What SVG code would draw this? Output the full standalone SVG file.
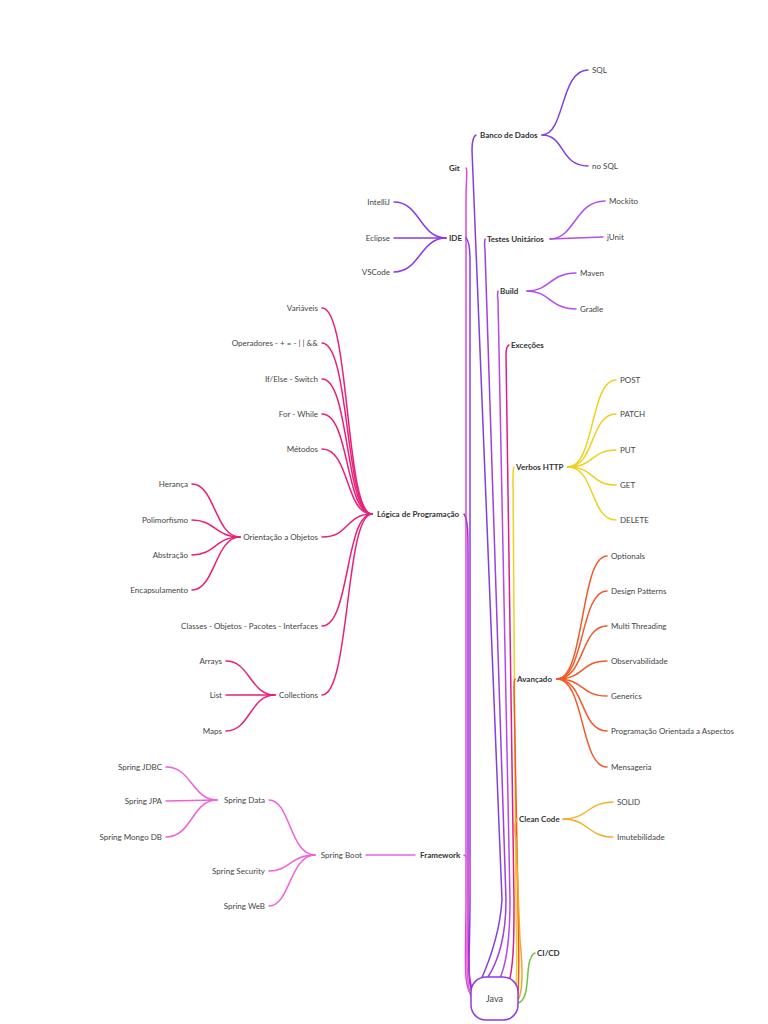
<svg xmlns="http://www.w3.org/2000/svg" width="768" height="1024" viewBox="0 0 768 1024">
<style>
text{font-family:Lato,"Liberation Sans",sans-serif;font-size:8px;fill:#444}
.b{font-weight:bold;fill:#333}
.e{text-anchor:end}
path{fill:none;stroke-width:1.5;stroke-linecap:round}
</style>
<rect width="768" height="1024" fill="#fff"/>
<g id="connectors">
<path d="M474 998 C462 990 466 960 466 900 L466 200 C466 175 468 170 466 168" stroke="#e048d8"/>
<path d="M474 995 C466 985 470 960 470 900 L470 260 C470 245 468 240 466 238" stroke="#8a3be8"/>
<path d="M474 992 C468 985 468 960 468 900 L468 560 C468 530 468 520 464 514" stroke="#b030d0"/>
<path d="M474 1000 C466 995 466 960 468 900 L470 870 C470 860 468 857 464 855" stroke="#e858d0"/>
<path d="M480 982 C490 960 500 930 502 900 L472 150 C472 140 474 136 476 135" stroke="#8040e0"/>
<path d="M486 980 C500 960 506 930 506 900 L485 250 C484 243 485 240 485 239" stroke="#9e40e0"/>
<path d="M500 978 C508 960 510 930 510 900 L498 300 C497 294 498 292 498 291" stroke="#b848e8"/>
<path d="M510 978 C514 960 514 930 514 900 L506 355 C506 348 507 346 509 345" stroke="#d82090"/>
<path d="M516 990 C518 960 516 930 516 900 L513 480 C513 470 513 468 514 467" stroke="#f0d020"/>
<path d="M518 995 C520 960 518 930 518 900 L514 690 C514 682 514 680 515 679" stroke="#f05a28"/>
<path d="M518 1000 C524 990 522 960 520 940 L516 840 C514 825 515 822 517 819" stroke="#f5a623"/>
<path d="M518 1003 C530 1000 526 970 530 960 C532 955 534 953 535 953" stroke="#6cc644"/>
<path d="M446 238 C420 238 420 202 394 202" stroke="#8a3be8"/>
<path d="M446 238 L394 238" stroke="#8a3be8"/>
<path d="M446 238 C420 238 420 272 394 272" stroke="#8a3be8"/>
<g stroke="#e8207a">
<path d="M372 514 C345 514 350 308 322 308"/>
<path d="M372 514 C345 514 350 343 322 343"/>
<path d="M372 514 C345 514 350 379 322 379"/>
<path d="M372 514 C345 514 350 414 322 414"/>
<path d="M372 514 C345 514 350 449 322 449"/>
<path d="M372 514 C345 514 350 537 322 537"/>
<path d="M372 514 C345 514 350 626 322 626"/>
<path d="M372 514 C345 514 350 695 322 695"/>
<path d="M240 537 C215 537 215 484 192 484"/>
<path d="M240 537 C215 537 215 520 192 520"/>
<path d="M240 537 C215 537 215 555 192 555"/>
<path d="M240 537 C215 537 215 590 192 590"/>
<path d="M275 695 C250 695 250 661 226 661"/>
<path d="M275 695 L226 695"/>
<path d="M275 695 C250 695 250 731 226 731"/>
</g>
<g stroke="#f060d8">
<path d="M415 855 L366 855"/>
<path d="M315 855 C290 855 290 800 269 800"/>
<path d="M315 855 C290 855 290 871 269 871"/>
<path d="M315 855 C290 855 290 906 269 906"/>
<path d="M217 800 C192 800 192 767 166 767"/>
<path d="M217 800 L166 801"/>
<path d="M217 800 C192 800 192 837 166 837"/>
</g>
<g stroke="#8040e0">
<path d="M542 135 C565 135 560 70 588 70"/>
<path d="M542 135 C565 135 560 166 588 166"/>
</g>
<g stroke="#b050e8">
<path d="M550 239 C575 239 575 201 605 201"/>
<path d="M550 239 L603 237"/>
<path d="M527 291 C550 291 550 273 576 273"/>
<path d="M527 291 C550 291 550 309 576 309"/>
</g>
<g stroke="#f0d020">
<path d="M568 467 C595 467 590 380 616 380"/>
<path d="M568 467 C595 467 590 414 616 414"/>
<path d="M568 467 C595 467 590 450 616 450"/>
<path d="M568 467 C595 467 590 485 616 485"/>
<path d="M568 467 C595 467 590 520 616 520"/>
</g>
<g stroke="#f05a28">
<path d="M557 679 C585 679 580 556 607 556"/>
<path d="M557 679 C585 679 580 591 607 591"/>
<path d="M557 679 C585 679 580 626 607 626"/>
<path d="M557 679 C585 679 580 661 607 661"/>
<path d="M557 679 C585 679 580 696 607 696"/>
<path d="M557 679 C585 679 580 731 607 731"/>
<path d="M557 679 C585 679 580 767 607 767"/>
</g>
<g stroke="#f5b030">
<path d="M563 819 C588 819 588 802 613 802"/>
<path d="M563 819 C588 819 588 837 613 837"/>
</g>
</g>
<g id="java"><rect x="471" y="977" width="47" height="43" rx="15" fill="#fff" stroke="#8a3be8" stroke-width="1.5"/><text x="494.5" y="1002" text-anchor="middle" style="font-size:9px">Java</text></g>
<g id="left">
<text class="b" x="449" y="171">Git</text>
<text class="b" x="449" y="241">IDE</text>
<text class="e" x="390" y="205">IntelliJ</text>
<text class="e" x="390" y="241">Eclipse</text>
<text class="e" x="390" y="275">VSCode</text>
<text class="b" x="377" y="517">Lógica de Programação</text>
<text class="e" x="318" y="311">Variáveis</text>
<text class="e" x="318" y="346">Operadores - + = - | | &amp;&amp;</text>
<text class="e" x="318" y="382">If/Else - Switch</text>
<text class="e" x="318" y="417">For - While</text>
<text class="e" x="318" y="452">Métodos</text>
<text class="e" x="318" y="540">Orientação a Objetos</text>
<text class="e" x="318" y="629">Classes - Objetos - Pacotes - Interfaces</text>
<text class="e" x="318" y="698">Collections</text>
<text class="e" x="188" y="487">Herança</text>
<text class="e" x="188" y="523">Polimorfismo</text>
<text class="e" x="188" y="558">Abstração</text>
<text class="e" x="188" y="593">Encapsulamento</text>
<text class="e" x="222" y="664">Arrays</text>
<text class="e" x="222" y="698">List</text>
<text class="e" x="222" y="734">Maps</text>
<text class="b" x="420" y="858">Framework</text>
<text class="e" x="362" y="858">Spring Boot</text>
<text class="e" x="265" y="803">Spring Data</text>
<text class="e" x="265" y="874">Spring Security</text>
<text class="e" x="265" y="909">Spring WeB</text>
<text class="e" x="162" y="770">Spring JDBC</text>
<text class="e" x="162" y="804">Spring JPA</text>
<text class="e" x="162" y="840">Spring Mongo DB</text>
</g>
<g id="right">
<text class="b" x="480" y="138">Banco de Dados</text>
<text x="592" y="73">SQL</text>
<text x="592" y="169">no SQL</text>
<text class="b" x="487" y="242">Testes Unitários</text>
<text x="609" y="204">Mockito</text>
<text x="607" y="240">jUnit</text>
<text class="b" x="500" y="294">Build</text>
<text x="580" y="276">Maven</text>
<text x="580" y="312">Gradle</text>
<text class="b" x="511" y="348">Exceções</text>
<text class="b" x="516" y="470">Verbos HTTP</text>
<text x="620" y="383">POST</text>
<text x="620" y="417">PATCH</text>
<text x="620" y="453">PUT</text>
<text x="620" y="488">GET</text>
<text x="620" y="523">DELETE</text>
<text class="b" x="517" y="682">Avançado</text>
<text x="611" y="559">Optionals</text>
<text x="611" y="594">Design Patterns</text>
<text x="611" y="629">Multi Threading</text>
<text x="611" y="664">Observabilidade</text>
<text x="611" y="699">Generics</text>
<text x="611" y="734">Programação Orientada a Aspectos</text>
<text x="611" y="770">Mensageria</text>
<text class="b" x="519" y="822">Clean Code</text>
<text x="617" y="805">SOLID</text>
<text x="617" y="840">Imutebilidade</text>
<text class="b" x="537" y="956">CI/CD</text>
</g>
</svg>
